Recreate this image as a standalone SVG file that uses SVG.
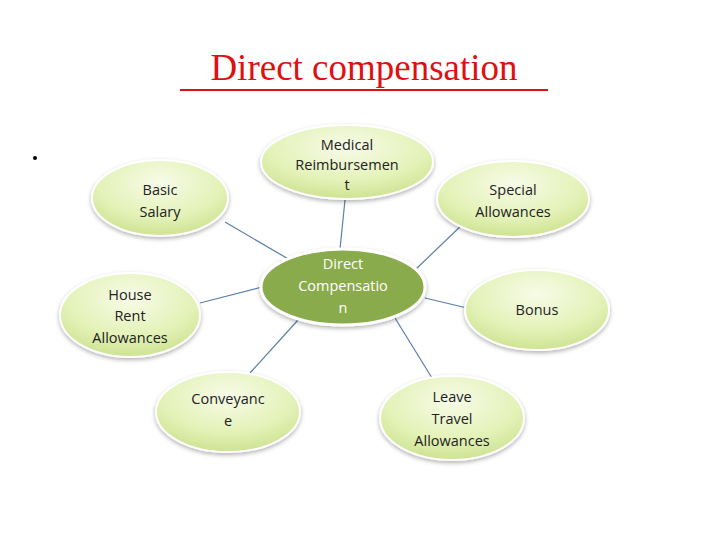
<svg xmlns="http://www.w3.org/2000/svg" width="728" height="546" viewBox="0 0 728 546">
<defs>
<radialGradient id="lg" cx="0.5" cy="0.3" r="0.75">
<stop offset="0" stop-color="#f7fbe8"/><stop offset="0.6" stop-color="#e4f2b8"/><stop offset="1" stop-color="#c9e08a"/>
</radialGradient>
<filter id="sh" x="-20%" y="-20%" width="140%" height="150%"><feDropShadow dx="0" dy="2" stdDeviation="2" flood-color="#000" flood-opacity="0.3"/></filter>
<style>
.n{fill:url(#lg);stroke:#ffffff;stroke-width:2;filter:url(#sh)}
.t{font-family:"Open Sans","Liberation Sans",sans-serif;font-size:14.5px;fill:#222;text-anchor:middle}
.c line{stroke:#5a7fa8;stroke-width:1.2}
</style>
</defs>
<rect width="728" height="546" fill="#fff"/>
<text x="364" y="80" font-family="Liberation Serif,serif" font-size="37" fill="#e01010" text-anchor="middle">Direct compensation</text>
<line x1="180" y1="90" x2="548" y2="90" stroke="#e01010" stroke-width="2"/>
<circle cx="35" cy="158" r="2" fill="#000"/>
<g class="c">
<line x1="225" y1="222" x2="290" y2="260"/>
<line x1="345" y1="200" x2="340" y2="249"/>
<line x1="415" y1="270" x2="465" y2="222"/>
<line x1="200" y1="303" x2="262" y2="287"/>
<line x1="425" y1="298" x2="467" y2="308"/>
<line x1="298" y1="320" x2="250" y2="373"/>
<line x1="395" y1="318" x2="432" y2="378"/>
</g>
<g id="medical"><ellipse class="n" cx="347" cy="162" rx="86" ry="37"/><text class="t" x="347" y="150">Medical</text><text class="t" x="347" y="170">Reimbursemen</text><text class="t" x="347" y="190">t</text></g>
<g id="basic"><ellipse class="n" cx="160" cy="198" rx="68" ry="38"/><text class="t" x="160" y="195">Basic</text><text class="t" x="160" y="217">Salary</text></g>
<g id="special"><ellipse class="n" cx="513" cy="199" rx="76" ry="38"/><text class="t" x="513" y="195">Special</text><text class="t" x="513" y="217">Allowances</text></g>
<g id="house"><ellipse class="n" cx="130" cy="315" rx="70" ry="42"/><text class="t" x="130" y="300">House</text><text class="t" x="130" y="321">Rent</text><text class="t" x="130" y="343">Allowances</text></g>
<g id="bonus"><ellipse class="n" cx="537" cy="310" rx="72" ry="40"/><text class="t" x="537" y="315">Bonus</text></g>
<g id="conveyance"><ellipse class="n" cx="228" cy="412" rx="72" ry="40"/><text class="t" x="228" y="404">Conveyanc</text><text class="t" x="228" y="426">e</text></g>
<g id="leave"><ellipse class="n" cx="452" cy="418" rx="72" ry="42"/><text class="t" x="452" y="402">Leave</text><text class="t" x="452" y="424">Travel</text><text class="t" x="452" y="446">Allowances</text></g>
<g id="center"><ellipse cx="343" cy="287" rx="82" ry="38" fill="#8aab4c" stroke="#fff" stroke-width="3" filter="url(#sh)"/><text class="t" x="343" y="269" fill="#fff" style="fill:#fff">Direct</text><text class="t" x="343" y="291" style="fill:#fff">Compensatio</text><text class="t" x="343" y="313" style="fill:#fff">n</text></g>
</svg>
